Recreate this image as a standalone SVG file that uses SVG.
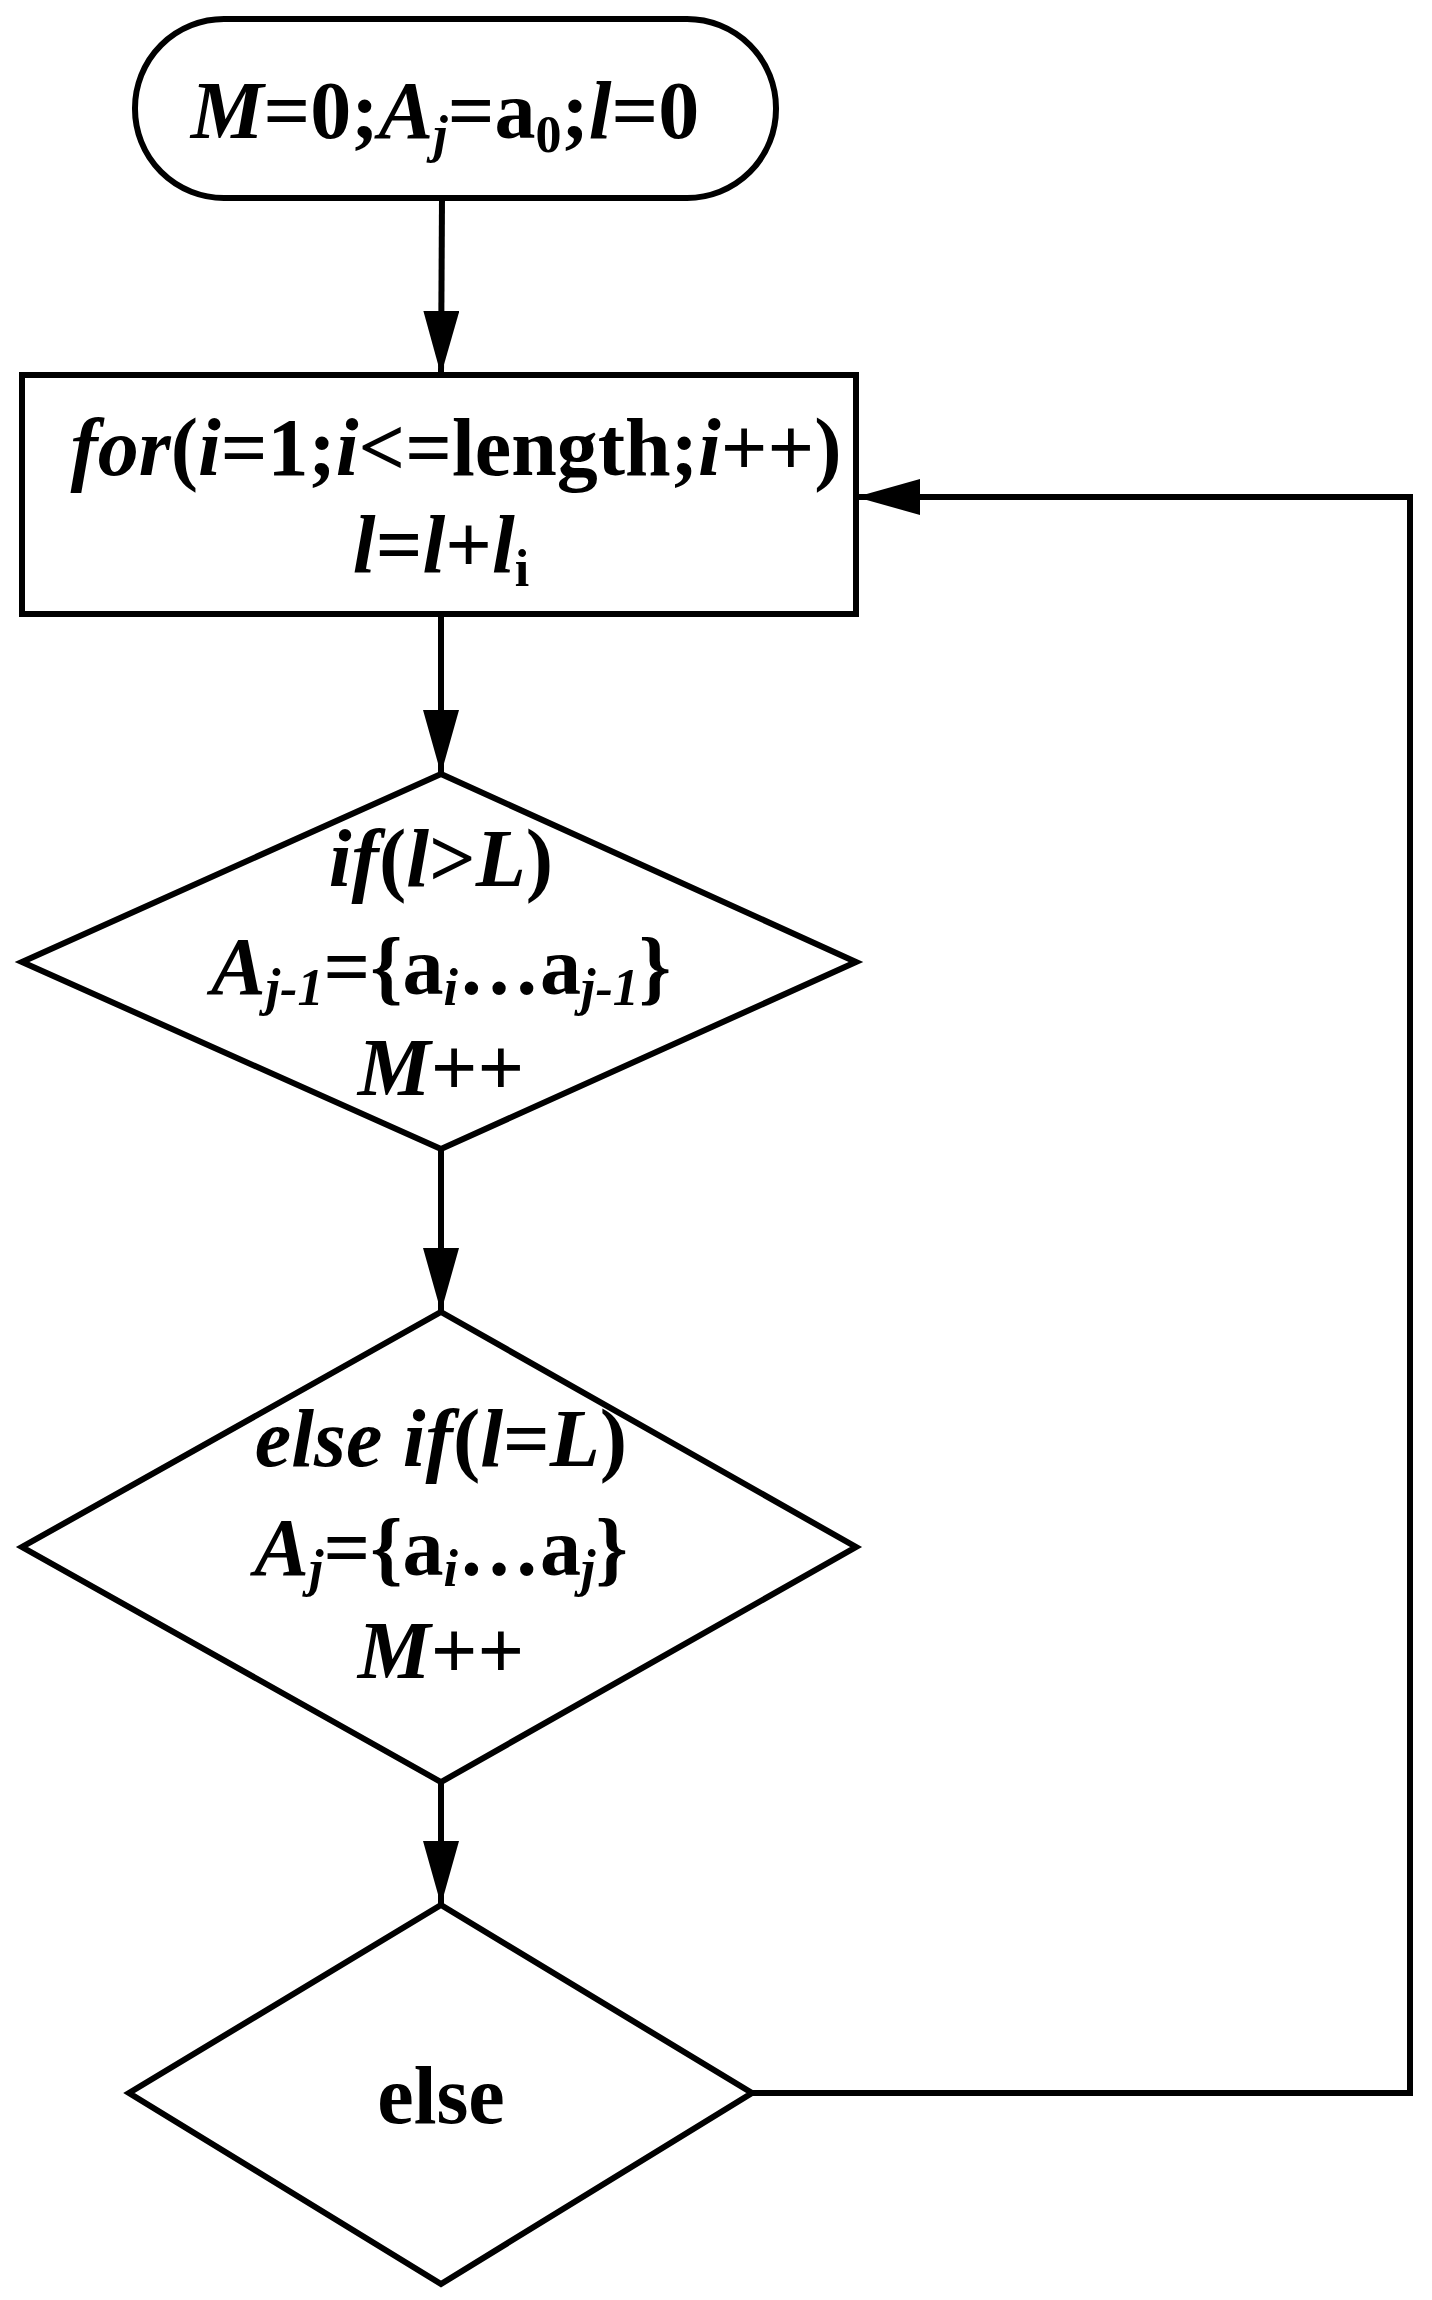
<svg xmlns="http://www.w3.org/2000/svg" width="1432" height="2300" viewBox="0 0 1432 2300">
<style>
.s{fill:#fff;stroke:#000;stroke-width:6}
.l{fill:none;stroke:#000;stroke-width:6}
text{font-family:"Liberation Serif","Times New Roman",serif;font-weight:bold;font-size:82px;text-anchor:middle;fill:#000}
.i{font-style:italic}
.sub{font-size:52px}
</style>
<defs>
<marker id="b" viewBox="0 0 64 36" markerWidth="64" markerHeight="36" refX="64" refY="18" orient="auto" markerUnits="userSpaceOnUse"><path d="M0,0L64,18L0,36z"/></marker></defs>
<g id="connectors">
<path class="l" d="M442,198L441,375" marker-end="url(#b)"/>
<path class="l" d="M441,614V774" marker-end="url(#b)"/>
<path class="l" d="M441,1149V1312" marker-end="url(#b)"/>
<path class="l" d="M441,1782V1905" marker-end="url(#b)"/>
<path class="l" d="M752,2093H1410V497H856" marker-end="url(#b)"/>
</g>
<g id="start"><rect class="s" x="135" y="19" width="641" height="179" rx="89"/>
<text x="445" y="138"><tspan class="i">M</tspan>=0;<tspan class="i">A</tspan><tspan class="i sub" dy="14">j</tspan><tspan dy="-14">=a</tspan><tspan class="sub" dy="14">0</tspan><tspan dy="-14">;</tspan><tspan class="i">l</tspan>=0</text></g>
<g id="loop"><rect class="s" x="22" y="375" width="834" height="239"/>
<text x="456" y="475"><tspan class="i">for</tspan>(<tspan class="i">i</tspan>=1;<tspan class="i">i</tspan>&lt;=length;<tspan class="i">i</tspan>++)</text>
<text x="441" y="572"><tspan class="i">l</tspan>=<tspan class="i">l</tspan>+<tspan class="i">l</tspan><tspan class="sub" dy="14">i</tspan></text></g>
<g id="d1"><path class="s" d="M441,774L856,962L441,1149L22,962Z"/>
<text x="441" y="886"><tspan class="i">if</tspan>(<tspan class="i">l</tspan>&gt;<tspan class="i">L</tspan>)</text>
<text x="441" y="994"><tspan class="i">A</tspan><tspan class="i sub" dy="11">j-1</tspan><tspan dy="-11">={a</tspan><tspan class="i sub" dy="11">i</tspan><tspan dy="-11">…a</tspan><tspan class="i sub" dy="11">j-1</tspan><tspan dy="-11">}</tspan></text>
<text x="441" y="1095"><tspan class="i">M</tspan>++</text></g>
<g id="d2"><path class="s" d="M441,1312L856,1547L441,1782L22,1547Z"/>
<text x="441" y="1466"><tspan class="i">else if</tspan>(<tspan class="i">l</tspan>=<tspan class="i">L</tspan>)</text>
<text x="441" y="1575"><tspan class="i">A</tspan><tspan class="i sub" dy="11">j</tspan><tspan dy="-11">={a</tspan><tspan class="i sub" dy="11">i</tspan><tspan dy="-11">…a</tspan><tspan class="i sub" dy="11">j</tspan><tspan dy="-11">}</tspan></text>
<text x="441" y="1678"><tspan class="i">M</tspan>++</text></g>
<g id="d3"><path class="s" d="M441,1905L752,2093L441,2284L129,2093Z"/>
<text x="441" y="2123">else</text></g>
</svg>
